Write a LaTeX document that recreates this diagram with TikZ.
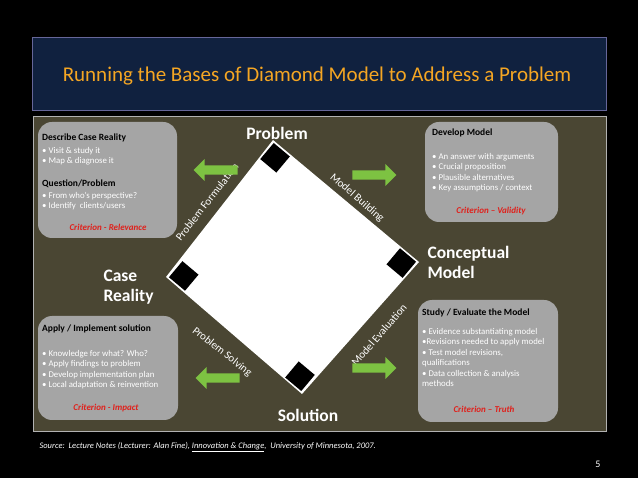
\documentclass[tikz,border=0pt]{standalone}
\usepackage{fontspec}
\setmainfont{Carlito}
\usetikzlibrary{shapes.arrows,calc}
\definecolor{navy}{HTML}{10213F}
\definecolor{olive}{HTML}{4A4633}
\definecolor{boxg}{HTML}{A5A5A5}
\definecolor{titlec}{HTML}{F5A623}
\definecolor{grn}{HTML}{7DC242}
\definecolor{crit}{HTML}{E0201B}
\begin{document}
\begin{tikzpicture}[x=1pt,y=-1pt,
  infobox/.style={fill=boxg,rounded corners=14pt},
  bigl/.style={text=white,font=\bfseries\fontsize{17.5}{20}\selectfont},
  edgel/.style={text=white,font=\fontsize{11}{12}\selectfont},
  itx/.style={text=white,font=\fontsize{8.8}{10.5}\selectfont,align=left,anchor=north west,inner sep=1pt},
  hd/.style={text=black,font=\bfseries\fontsize{9.5}{11}\selectfont,anchor=north west,inner sep=1pt},
  crt/.style={text=crit,font=\bfseries\itshape\fontsize{9}{10}\selectfont},
  garrow/.style={single arrow,fill=grn,minimum height=44pt,minimum width=22pt,single arrow head extend=3pt,inner sep=2pt},
  corner/.style={fill=black,minimum size=21pt,inner sep=0pt}]
\fill[black] (0,0) rectangle (638,478);
\useasboundingbox (0,0) rectangle (638,478);
\draw[gray!80!blue,fill=navy,line width=0.8pt] (32,37) rectangle (606,110);
\node[text=titlec,font=\fontsize{21}{24}\selectfont] (title) at (317,76) {Running the Bases of Diamond Model to Address a Problem};
\draw[gray!60,fill=olive,line width=0.6pt] (33,116) rectangle (606,431);
% diamond
\coordinate (T) at (273,140);
\coordinate (R) at (419,262);
\coordinate (B) at (302,394);
\coordinate (L) at (166,277);
\fill[white] (T) -- (R) -- (B) -- (L) -- cycle;
\node[corner,rotate=-40] (cT) at ($(T)!0.07!(B)$) {};
\node[corner,rotate=-40] (cR) at ($(R)!0.07!(L)$) {};
\node[corner,rotate=-40] (cB) at ($(B)!0.07!(T)$) {};
\node[corner,rotate=-40] (cL) at ($(L)!0.07!(R)$) {};
% edge labels
\node[edgel,rotate=52] (pf) at (207,202) {Problem Formulation};
\node[edgel,rotate=-41] (mb) at (357,198) {Model Building};
\node[edgel,rotate=49] (me) at (379,335) {Model Evaluation};
\node[edgel,rotate=-38] (ps) at (222,352) {Problem Solving};
% big labels
\node[bigl] (prob) at (277,133) {Problem};
\node[bigl,anchor=west,align=left] (cm) at (424,262) {Conceptual\\Model};
\node[bigl,anchor=west,align=left] (cr) at (100,287) {Case\\Reality};
\node[bigl] (sol) at (308,415) {Solution};
% boxes
\fill[infobox] (38,122) rectangle (177,238);
\node[hd] (h1) at (41,133) {Describe Case Reality};
\node[itx] (t1) at (41,146) {• Visit \& study it\\• Map \& diagnose it};
\node[hd] (h2) at (41,179) {Question/Problem};
\node[itx] (t2) at (41,191) {• From who’s perspective?\\• Identify\ \ clients/users};
\node[crt] (c1) at (108,227) {Criterion - Relevance};
\fill[infobox] (425,122) rectangle (558,222);
\node[hd] (h3) at (431,128) {Develop Model};
\node[itx] (t3) at (431,152) {• An answer with arguments\\• Crucial proposition\\• Plausible alternatives\\• Key assumptions / context};
\node[crt] (c3) at (491,211) {Criterion – Validity};
\fill[infobox] (418,300) rectangle (558,422);
\node[hd] (h4) at (421,308) {Study / Evaluate the Model};
\node[itx] (t4) at (421,327) {• Evidence substantiating model\\•Revisions needed to apply model\\• Test model revisions,\\qualifications\\• Data collection \& analysis\\methods};
\node[crt] (c4) at (484,409) {Criterion – Truth};
\fill[infobox] (38,316) rectangle (178,420);
\node[hd] (h5) at (41,324) {Apply / Implement solution};
\node[itx] (t5) at (41,349) {• Knowledge for what? Who?\\• Apply findings to problem\\• Develop implementation plan\\• Local adaptation \& reinvention};
\node[crt] (c5) at (106,408) {Criterion - Impact};
% arrows
\node[garrow,shape border rotate=180] (a1) at (218,170) {};
\node[garrow] (a2) at (372,175) {};
\node[garrow] (a3) at (372,368) {};
\node[garrow,shape border rotate=180] (a4) at (220,378) {};
% footer
\node[anchor=west,text=white,font=\itshape\fontsize{8.5}{10}\selectfont] (src) at (36,447) {Source:\ \ Lecture Notes (Lecturer: Alan Fine), \underline{Innovation \& Change},\ \ University of Minnesota, 2007.};
\node[text=white,font=\fontsize{10}{11}\selectfont] (pg) at (598,464) {5};
\end{tikzpicture}
\end{document}
